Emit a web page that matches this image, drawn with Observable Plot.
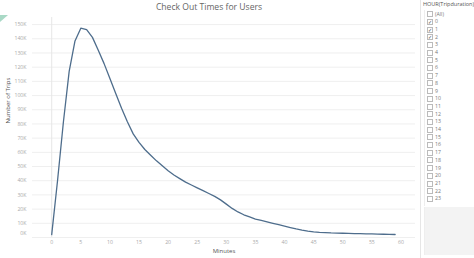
<!DOCTYPE html>
<html>
<head>
<meta charset="utf-8">
<script src="https://cdn.jsdelivr.net/npm/d3@7"></script>
<script src="https://cdn.jsdelivr.net/npm/@observablehq/plot@0.6"></script>
<style>
  body { margin: 0; background: #fff; font-family: "Open Sans", sans-serif; }
  #root { position: relative; width: 474px; height: 258px; overflow: hidden; }
  #chart { position: absolute; left: 0; top: 0; }
  #title { position: absolute; left: 0; top: 1px; width: 418px; text-align: center; font-size: 8.6px; color: #666; white-space: nowrap; }
  #marker { position: absolute; left: 0; top: 15px; width: 0; height: 0;
            border-left: 8px solid #a9d9c6; border-bottom: 7px solid transparent; }
  #filter { position: absolute; left: 420px; top: 0; width: 54px; height: 258px; border-left: 1px solid #e6e6e6; }
  #filter .head { position: absolute; left: 2px; top: 0; font-size: 5.5px; color: #555; white-space: nowrap; }
  #filter .list { position: absolute; left: 3px; top: 10px; width: 50px; height: 196px; border-left: 1px solid #eee; }
  #filter .item { position: absolute; left: 2px; height: 7px; font-size: 5.2px; color: #777; line-height: 7px; white-space: nowrap; }
  #filter .box { display: inline-block; width: 4px; height: 4px; border: 1px solid #bbb; vertical-align: middle;
                 margin-right: 2px; font-size: 5px; line-height: 4px; text-align: center; color: #444; background: #fff; }
  #filter .pad { position: absolute; left: 3px; top: 207px; width: 50px; height: 48px; background: #f3f3f3; border-left: 1px solid #eee; }
</style>
</head>
<body>
<div id="root">
  <div id="chart"></div>
  <div id="title">Check Out Times for Users</div>
  <div id="marker"></div>
  <div id="filter"></div>
</div>
<script>
// Trip duration in minutes and the number of trips ending at each duration
const minutes = [0, 1, 2, 3, 4, 5, 6, 7, 8, 9, 10, 11, 12, 13, 14, 15, 16, 17, 18, 19,
  20, 21, 22, 23, 24, 25, 26, 27, 28, 29, 30, 31, 32, 33, 34, 35, 36, 37, 38, 39,
  40, 41, 42, 43, 44, 45, 46, 47, 48, 49, 50, 51, 52, 53, 54, 55, 56, 57, 58, 59];
const trips = [2000, 40000, 81000, 117000, 138500, 147500, 146500, 141000, 132000, 122500,
  112000, 101500, 91000, 81500, 73000, 67000, 62000, 58000, 54000, 50500,
  47000, 44000, 41500, 39000, 37000, 35000, 33000, 31000, 29000, 26500,
  23500, 20500, 18000, 16000, 14500, 13000, 12000, 11000, 10000, 9000,
  8000, 7000, 6000, 5200, 4500, 4000, 3600, 3400, 3200, 3100,
  3000, 2900, 2800, 2700, 2600, 2500, 2400, 2300, 2200, 2100];

const xTicks = [0, 5, 10, 15, 20, 25, 30, 35, 40, 45, 50, 55, 60];
const yTicks = [0, 10000, 20000, 30000, 40000, 50000, 60000, 70000, 80000,
  90000, 100000, 110000, 120000, 130000, 140000, 150000];

// Hour filter shown beside the chart
const hourOptions = ["(All)", "0", "1", "2", "3", "4", "5", "6", "7", "8", "9", "10", "11",
  "12", "13", "14", "15", "16", "17", "18", "19", "20", "21", "22", "23"];
const checkedHours = ["0", "1", "2"];

const data = minutes.map((m, i) => ({minute: m, trips: trips[i]}));
const fmtK = d => `${d / 1000}K`;

const chart = Plot.plot({
  width: 420,
  height: 258,
  marginTop: 17,
  marginBottom: 21,
  marginLeft: 32,
  marginRight: 5,
  x: {domain: [-3.3, 62.5]},
  y: {domain: [0, 155000]},
  style: {fontFamily: "Open Sans", fontSize: "5.2px", color: "#aaa", background: "transparent", overflow: "visible"},
  marks: [
    Plot.gridY(yTicks, {stroke: "#efefef", strokeOpacity: 1}),
    Plot.ruleX([0], {stroke: "#e6e6e6"}),
    Plot.axisY(yTicks.filter(d => d > 0), {tickSize: 0, tickPadding: 6, tickFormat: fmtK, label: null}),
    Plot.axisY([0], {tickSize: 0, tickPadding: 6, tickFormat: fmtK, dy: -4, label: null}),
    Plot.axisX(xTicks, {tickSize: 0, tickPadding: 3, label: null}),
    Plot.text(["Minutes"], {frameAnchor: "bottom", dy: 15, fontSize: 6, fill: "#555"}),
    Plot.text(["Number of Trips"], {frameAnchor: "left", dx: -24, dy: -4, rotate: -90, fontSize: 6, fill: "#555"}),
    Plot.line(data, {x: "minute", y: "trips", stroke: "#4e6d8c", strokeWidth: 1.3})
  ]
});
document.getElementById("chart").appendChild(chart);

// Filter panel
const panel = document.getElementById("filter");
const head = document.createElement("div");
head.className = "head";
head.textContent = "HOUR(Tripduration)";
panel.appendChild(head);
const list = document.createElement("div");
list.className = "list";
panel.appendChild(list);
hourOptions.forEach((h, i) => {
  const row = document.createElement("div");
  row.className = "item";
  row.style.top = (0.5 + i * 7.7) + "px";
  const box = document.createElement("span");
  box.className = "box";
  box.textContent = checkedHours.includes(h) ? "✓" : "";
  row.appendChild(box);
  row.appendChild(document.createTextNode(h));
  list.appendChild(row);
});
const pad = document.createElement("div");
pad.className = "pad";
panel.appendChild(pad);
</script>
</body>
</html>
